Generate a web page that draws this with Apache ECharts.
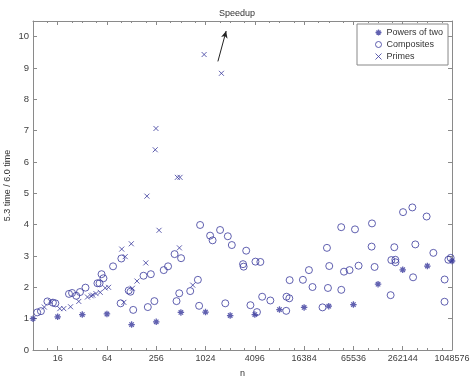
<!DOCTYPE html>
<html>
<head>
<meta charset="utf-8">
<script src="https://cdn.jsdelivr.net/npm/echarts@6/dist/echarts.min.js"></script>
<style>html,body{margin:0;padding:0;background:#fff;}#c{width:474px;height:382px;}</style>
</head>
<body>
<div id="c"></div>
<script>
// ---- data ----
const titleText = 'Speedup';
const xName = 'n';
const yName = '5.3 time / 6.0 time';
const seriesNames = ['Powers of two', 'Composites', 'Primes'];
const xTickLabels = [16, 64, 256, 1024, 4096, 16384, 65536, 262144, 1048576];

const powN = [8,16,32,64,128,256,512,1024,2048,4096,8192,16384,32768,65536,131072,262144,524288,1048576];
const powV = [1.00,1.06,1.13,1.15,0.81,0.90,1.20,1.21,1.10,1.13,1.29,1.36,1.40,1.45,2.10,2.56,2.68,2.84];

const compN = [9,10,12,14,15,22,24,27,30,35,49,52,55,58,76,94,96,118,124,134,179,202,220,243,316,357,429,453,489,515,666,826,855,879,1165,1249,1542,1784,1917,2145,2940,2990,3214,3620,4170,4350,4787,5036,6340,9900,9980,10800,10900,15830,18760,20740,27490,31130,32020,33220,46500,46600,50250,58800,68500,75800,109300,110500,118900,186700,190400,207000,213000,214000,264600,343900,350800,373800,513600,620900,850000,851900,946700,1009000];
const compV = [1.20,1.24,1.55,1.51,1.49,1.79,1.82,1.73,1.85,1.99,2.13,2.13,2.42,2.29,2.67,1.49,2.92,1.90,1.86,1.28,2.37,1.37,2.42,1.56,2.55,2.67,3.06,1.56,1.81,2.93,1.88,2.24,1.41,3.99,3.65,3.50,3.83,1.49,3.63,3.35,2.74,2.66,3.17,1.43,2.82,1.21,2.81,1.70,1.58,1.25,1.70,1.65,2.23,2.24,2.55,2.01,1.36,3.26,1.98,2.68,3.92,1.92,2.50,2.55,3.85,2.69,3.30,4.04,2.65,1.75,2.87,3.28,2.88,2.80,4.40,4.55,2.32,3.37,4.26,3.10,1.54,2.25,2.88,2.94];

const primeN = [11,13,17,19,23,29,37,41,43,47,53,61,67,97,103,107,127,131,149,191,197,249,254,277,464,491,500,715,984,1601];
const primeV = [1.37,1.55,1.32,1.32,1.38,1.55,1.69,1.73,1.75,1.80,1.84,1.98,2.00,3.22,1.52,2.98,3.39,1.97,2.20,2.78,4.91,6.39,7.07,3.82,5.51,3.26,5.51,2.07,9.43,8.83];

// arrow pointing to an off-scale value (start, end) in data units
const arrowFrom = [1450, 9.21];
const arrowTo = [1828, 10.18];

const xMin = 8, xMax = 1048576;
const yMin = 0, yMax = 10.5;

// ---- styling ----
const mColor = '#3a3a9c';
const axisColor = '#8a8a8a';
const labelColor = '#404040';
const font = 'Liberation Sans, Arial, Helvetica, sans-serif';
const starPath = 'path://M5,0L5,10M0,5L10,5M1.6,1.6L8.4,8.4M8.4,1.6L1.6,8.4';
const crossPath = 'path://M0,0L10,10M10,0L0,10';

function zip(a, b) { return a.map((v, i) => [v, b[i]]); }

const chart = echarts.init(document.getElementById('c'), null, {renderer: 'canvas'});

// small ticks every half power of two
const xSmall = {
  type: 'log', logBase: 2, min: xMin, max: xMax, interval: 1,
  axisLine: {show: true, onZero: false, lineStyle: {color: axisColor, width: 1}},
  axisTick: {show: true, inside: true, length: 2, lineStyle: {color: axisColor}},
  minorTick: {show: true, splitNumber: 2, length: 2, lineStyle: {color: axisColor}},
  axisLabel: {show: false},
  splitLine: {show: false}, minorSplitLine: {show: false}
};
// big ticks + labels at the labelled powers
const xBig = {
  type: 'log', logBase: 2, min: xMin, max: xMax, interval: 1,
  axisLine: {show: false, onZero: false},
  axisTick: {show: true, inside: true, length: 4, customValues: xTickLabels, lineStyle: {color: axisColor}},
  splitLine: {show: false}
};
const yAxisBase = {
  type: 'value', min: yMin, max: yMax, interval: 1,
  axisLine: {show: true, onZero: false, lineStyle: {color: axisColor, width: 1}},
  axisTick: {show: true, inside: true, length: 4, lineStyle: {color: axisColor}},
  splitLine: {show: false}
};

chart.setOption({
  animation: false,
  backgroundColor: '#fff',
  title: {
    text: titleText, left: 'center', top: 4,
    textStyle: {fontFamily: font, fontSize: 9, fontWeight: 'normal', color: '#333'}
  },
  grid: {left: 33, right: 22, top: 21, bottom: 32, containLabel: false, outerBoundsMode: 'none'},
  legend: {
    orient: 'vertical', left: 357, top: 24,
    padding: [3, 5, 3, 16],
    itemWidth: 6, itemHeight: 6, itemGap: 1,
    borderColor: '#888', borderWidth: 1, backgroundColor: '#fff',
    textStyle: {fontFamily: font, fontSize: 9, color: '#333', lineHeight: 11},
    data: [
      {name: seriesNames[0], icon: starPath, itemStyle: {color: 'none', borderColor: mColor, borderWidth: 1.3}},
      {name: seriesNames[1], icon: 'circle', itemStyle: {color: 'none', borderColor: mColor, borderWidth: 1}},
      {name: seriesNames[2], icon: crossPath, itemStyle: {color: 'none', borderColor: mColor, borderWidth: 1}}
    ]
  },
  xAxis: [
    Object.assign({}, xSmall, {position: 'bottom'}),
    Object.assign({}, xSmall, {position: 'top'}),
    Object.assign({}, xBig, {
      position: 'bottom', name: xName, nameLocation: 'middle', nameGap: 19, nameMoveOverlap: false,
      nameTextStyle: {fontFamily: font, fontSize: 9, color: '#333'},
      axisLabel: {show: true, customValues: xTickLabels, fontFamily: font, fontSize: 9, color: labelColor, margin: 4,
        formatter: function (v) { return String(Math.round(v)); }}
    }),
    Object.assign({}, xBig, {position: 'top', axisLabel: {show: false}})
  ],
  yAxis: [
    Object.assign({}, yAxisBase, {
      position: 'left', name: yName, nameLocation: 'middle', nameGap: 21, nameMoveOverlap: false,
      nameTextStyle: {fontFamily: font, fontSize: 9, color: '#333'},
      axisLabel: {show: true, fontFamily: font, fontSize: 9.5, color: labelColor, margin: 4,
        formatter: function (v) { return Number.isInteger(v) ? String(v) : ''; }}
    }),
    Object.assign({}, yAxisBase, {position: 'right', axisLabel: {show: false}})
  ],
  series: [
    {
      name: seriesNames[0], type: 'scatter', symbol: starPath, symbolSize: 6.5,
      itemStyle: {color: 'none', borderColor: mColor, borderWidth: 1.3},
      data: zip(powN, powV), silent: true
    },
    {
      name: seriesNames[1], type: 'scatter', symbol: 'circle', symbolSize: 7,
      itemStyle: {color: 'none', borderColor: mColor, borderWidth: 1},
      data: zip(compN, compV), silent: true
    },
    {
      name: seriesNames[2], type: 'scatter', symbol: crossPath, symbolSize: 5,
      itemStyle: {color: 'none', borderColor: mColor, borderWidth: 1},
      data: zip(primeN, primeV), silent: true,
      markLine: {
        silent: true, symbol: ['none', 'arrow'], symbolSize: [5, 7],
        label: {show: false},
        lineStyle: {color: '#222', width: 1, type: 'solid'},
        data: [[{coord: arrowFrom}, {coord: arrowTo}]]
      }
    }
  ]
});
</script>
</body>
</html>
